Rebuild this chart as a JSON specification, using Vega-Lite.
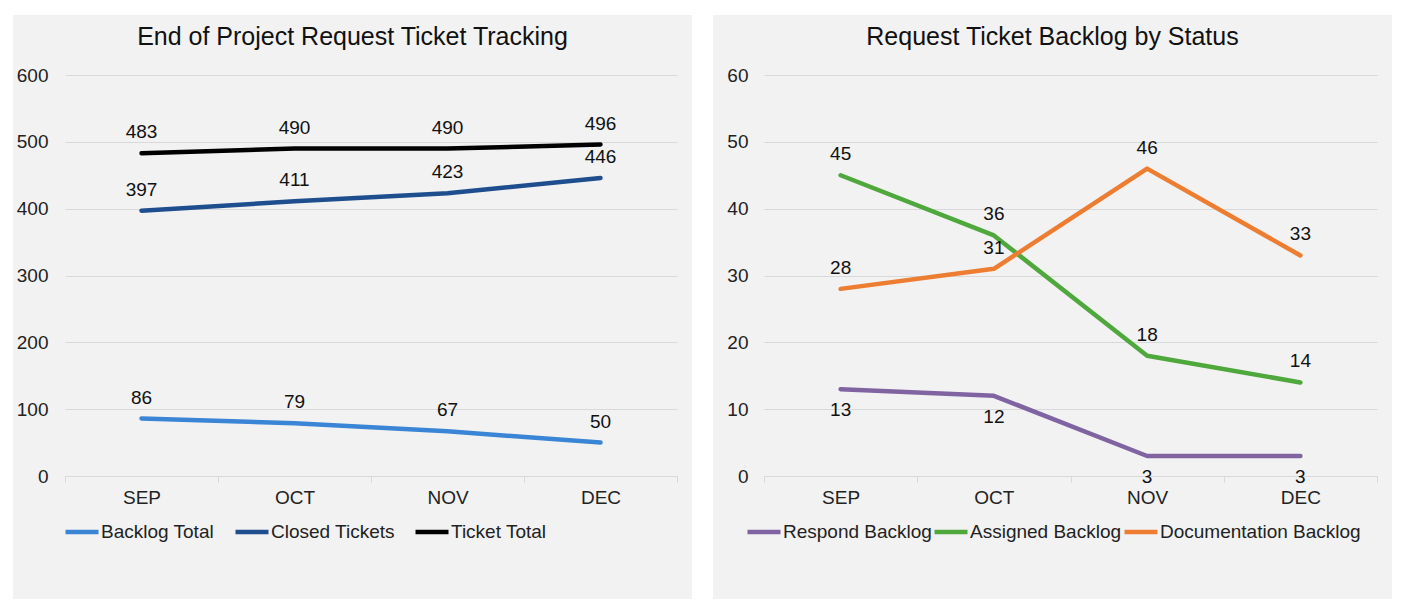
{
  "$schema": "https://vega.github.io/schema/vega-lite/v6.json",
  "background": "#ffffff",
  "padding": {"left": 13, "top": 15, "right": 13, "bottom": 17},
  "autosize": {"type": "pad"},
  "spacing": 21,
  "config": {
    "font": "Liberation Sans",
    "view": {"fill": "#f2f2f2", "stroke": null},
    "axis": {"labelFont": "Liberation Sans", "labelFontSize": 19, "labelColor": "#222222"},
    "legend": {"labelFont": "Liberation Sans", "labelFontSize": 19, "labelColor": "#222222", "labelLimit": 500}
  },
  "resolve": {"scale": {"x": "independent", "y": "independent", "color": "independent"}, "legend": {"color": "independent"}},
  "datasets": {
    "tracking": [
      {"month": "SEP", "series": "Backlog Total", "value": 86},
      {"month": "OCT", "series": "Backlog Total", "value": 79},
      {"month": "NOV", "series": "Backlog Total", "value": 67},
      {"month": "DEC", "series": "Backlog Total", "value": 50},
      {"month": "SEP", "series": "Closed Tickets", "value": 397},
      {"month": "OCT", "series": "Closed Tickets", "value": 411},
      {"month": "NOV", "series": "Closed Tickets", "value": 423},
      {"month": "DEC", "series": "Closed Tickets", "value": 446},
      {"month": "SEP", "series": "Ticket Total", "value": 483},
      {"month": "OCT", "series": "Ticket Total", "value": 490},
      {"month": "NOV", "series": "Ticket Total", "value": 490},
      {"month": "DEC", "series": "Ticket Total", "value": 496}
    ],
    "status": [
      {"month": "SEP", "series": "Respond Backlog", "value": 13},
      {"month": "OCT", "series": "Respond Backlog", "value": 12},
      {"month": "NOV", "series": "Respond Backlog", "value": 3},
      {"month": "DEC", "series": "Respond Backlog", "value": 3},
      {"month": "SEP", "series": "Assigned Backlog", "value": 45},
      {"month": "OCT", "series": "Assigned Backlog", "value": 36},
      {"month": "NOV", "series": "Assigned Backlog", "value": 18},
      {"month": "DEC", "series": "Assigned Backlog", "value": 14},
      {"month": "SEP", "series": "Documentation Backlog", "value": 28},
      {"month": "OCT", "series": "Documentation Backlog", "value": 31},
      {"month": "NOV", "series": "Documentation Backlog", "value": 46},
      {"month": "DEC", "series": "Documentation Backlog", "value": 33}
    ]
  },
  "hconcat": [
    {
      "width": 679,
      "height": 584,
      "layer": [
        {
          "data": {"name": "tracking"},
          "mark": {"type": "line", "strokeWidth": 4.5, "strokeCap": "round", "strokeJoin": "round"},
          "encoding": {
            "x": {
              "field": "month", "type": "ordinal", "sort": ["SEP", "OCT", "NOV", "DEC"],
              "scale": {"type": "band", "range": [52, 664], "paddingInner": 0, "paddingOuter": 0},
              "axis": {"title": null, "orient": "bottom", "offset": -123, "labelAngle": 0, "labelPadding": 6, "tickBand": "extent", "tickSize": 6, "tickColor": "#d9d9d9", "domainColor": "#d9d9d9", "domainWidth": 1, "grid": false}
            },
            "y": {
              "field": "value", "type": "quantitative",
              "scale": {"domain": [-184, 689.8], "nice": false, "zero": false},
              "axis": {"title": null, "values": [0, 100, 200, 300, 400, 500, 600], "offset": -52, "labelPadding": 17, "ticks": false, "domain": false, "grid": true, "gridColor": "#d9d9d9", "gridWidth": 1}
            },
            "color": {
              "field": "series", "type": "nominal",
              "scale": {"domain": ["Backlog Total", "Closed Tickets", "Ticket Total"], "range": ["#3a85d6", "#1f4e8f", "#000000"]},
              "legend": {"title": null, "orient": "none", "direction": "horizontal", "legendX": 50, "legendY": 498, "padding": 0, "symbolType": "stroke", "symbolSize": 1089, "symbolStrokeWidth": 4.5, "labelOffset": 0, "columnPadding": 11}
            }
          }
        },
        {
          "data": {"name": "tracking"},
          "mark": {"type": "text", "dy": -21, "fontSize": 19, "color": "#111111", "baseline": "middle"},
          "encoding": {
            "x": {"field": "month", "type": "ordinal", "sort": ["SEP", "OCT", "NOV", "DEC"]},
            "y": {"field": "value", "type": "quantitative"},
            "text": {"field": "value", "type": "quantitative"}
          }
        },
        {
          "data": {"values": [{"title": "End of Project Request Ticket Tracking"}]},
          "mark": {"type": "text", "fontSize": 25, "color": "#111111", "baseline": "middle", "align": "center"},
          "encoding": {"y": {"datum": 656.9, "type": "quantitative"}, "text": {"field": "title", "type": "nominal"}}
        }
      ]
    },
    {
      "width": 679,
      "height": 584,
      "layer": [
        {
          "data": {"name": "status"},
          "mark": {"type": "line", "strokeWidth": 4.5, "strokeCap": "round", "strokeJoin": "round"},
          "encoding": {
            "x": {
              "field": "month", "type": "ordinal", "sort": ["SEP", "OCT", "NOV", "DEC"],
              "scale": {"type": "band", "range": [51, 664], "paddingInner": 0, "paddingOuter": 0},
              "axis": {"title": null, "orient": "bottom", "offset": -123, "labelAngle": 0, "labelPadding": 6, "tickBand": "extent", "tickSize": 6, "tickColor": "#d9d9d9", "domainColor": "#d9d9d9", "domainWidth": 1, "grid": false}
            },
            "y": {
              "field": "value", "type": "quantitative",
              "scale": {"domain": [-18.4, 68.98], "nice": false, "zero": false},
              "axis": {"title": null, "values": [0, 10, 20, 30, 40, 50, 60], "offset": -51, "labelPadding": 16, "ticks": false, "domain": false, "grid": true, "gridColor": "#d9d9d9", "gridWidth": 1}
            },
            "color": {
              "field": "series", "type": "nominal",
              "scale": {"domain": ["Respond Backlog", "Assigned Backlog", "Documentation Backlog"], "range": ["#8064a2", "#4ea83c", "#ed7d31"]},
              "legend": {"title": null, "orient": "none", "direction": "horizontal", "legendX": 32, "legendY": 498, "padding": 0, "symbolType": "stroke", "symbolSize": 1089, "symbolStrokeWidth": 4.5, "labelOffset": 0, "columnPadding": -8}
            }
          }
        },
        {
          "data": {"name": "status"},
          "transform": [{"filter": "datum.series !== 'Respond Backlog'"}],
          "mark": {"type": "text", "dy": -21, "fontSize": 19, "color": "#111111", "baseline": "middle"},
          "encoding": {
            "x": {"field": "month", "type": "ordinal", "sort": ["SEP", "OCT", "NOV", "DEC"]},
            "y": {"field": "value", "type": "quantitative"},
            "text": {"field": "value", "type": "quantitative"}
          }
        },
        {
          "data": {"name": "status"},
          "transform": [{"filter": "datum.series === 'Respond Backlog'"}],
          "mark": {"type": "text", "dy": 21, "fontSize": 19, "color": "#111111", "baseline": "middle"},
          "encoding": {
            "x": {"field": "month", "type": "ordinal", "sort": ["SEP", "OCT", "NOV", "DEC"]},
            "y": {"field": "value", "type": "quantitative"},
            "text": {"field": "value", "type": "quantitative"}
          }
        },
        {
          "data": {"values": [{"title": "Request Ticket Backlog by Status"}]},
          "mark": {"type": "text", "fontSize": 25, "color": "#111111", "baseline": "middle", "align": "center"},
          "encoding": {"y": {"datum": 65.69, "type": "quantitative"}, "text": {"field": "title", "type": "nominal"}}
        }
      ]
    }
  ]
}
